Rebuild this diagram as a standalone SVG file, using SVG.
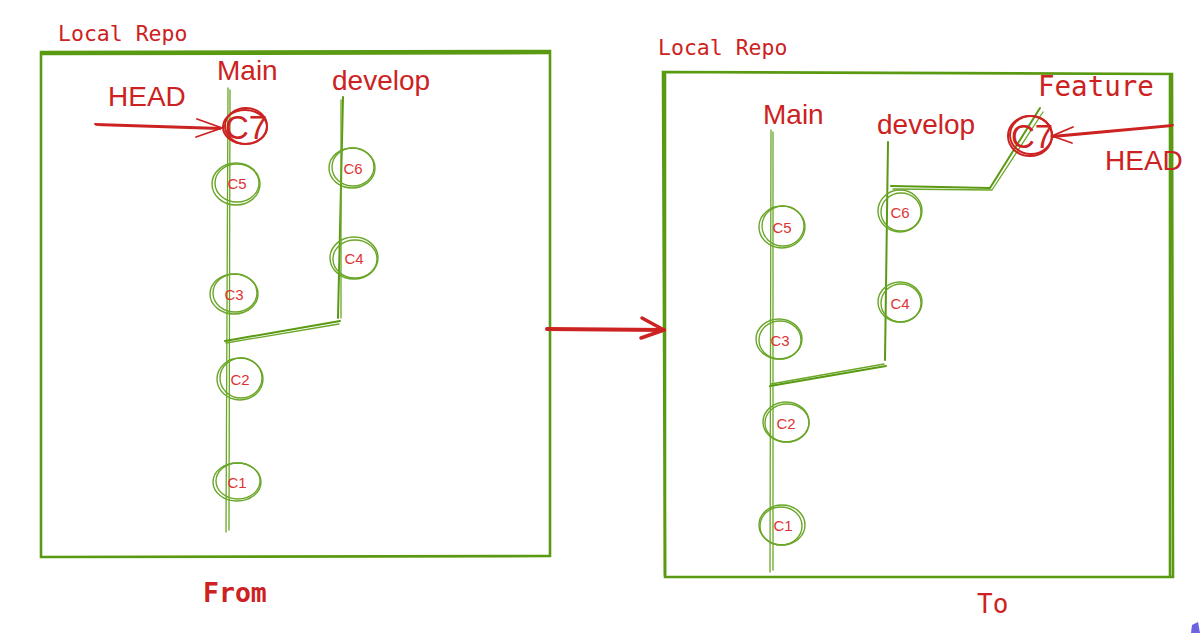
<svg xmlns="http://www.w3.org/2000/svg" width="1200" height="633" viewBox="0 0 1200 633">
  <defs>
    <style>
      .frame { fill: none; stroke: #5a9a12; stroke-width: 2.6; stroke-linecap: round; }
      .branch { fill: none; stroke: #6aa628; stroke-width: 1.3; stroke-linecap: round; stroke-linejoin: round; }
      .branch2 { fill: none; stroke: #5a9a12; stroke-width: 2; stroke-linecap: round; stroke-linejoin: round; }
      .commit { fill: none; stroke: #6aa628; stroke-width: 1.4; }
      .head { fill: none; stroke: #cc2222; stroke-width: 2; }
      .arrow { fill: none; stroke: #cc2222; stroke-width: 1.8; stroke-linecap: round; }
      .mono { font-family: "DejaVu Sans Mono", "Liberation Mono", monospace; fill: #cc2222; }
      .sans { font-family: "Liberation Sans", Arial, sans-serif; fill: #cc2222; }
      .lbl { font-size: 15px; text-anchor: middle; fill: #dd3333; }
      .big { font-size: 28px; }
      .c7 { font-size: 33px; text-anchor: middle; }
    </style>
  </defs>

  <rect width="1200" height="633" fill="#ffffff"/>

  <!-- left repository -->
  <g id="repo-from">
    <path class="frame" d="M41 52 L550 51 L550 556 L41 557 Z"/>
    <path class="frame" d="M42 54 L549 53" stroke-width="1.2"/>
    <text class="mono" x="58" y="41" font-size="21.5">Local Repo</text>
    <text class="mono" x="203" y="602" font-size="26.5" font-weight="bold">From</text>
  </g>

  <!-- right repository -->
  <g id="repo-to">
    <path class="frame" d="M663 72 L1172 74 L1173 577 L665 577 Z"/>
    <path class="frame" d="M665 74 L665 575 M1170 76 L1170 576" stroke-width="1.2"/>
    <text class="mono" x="658" y="55" font-size="21.5">Local Repo</text>
    <text class="mono" x="977" y="613" font-size="26">To</text>
  </g>

  <!-- branch lines and pointers -->
  <g id="connectors">
    <!-- left: main -->
    <path class="branch" d="M228 88 L226 532"/>
    <path class="branch" d="M230 90 L229 530"/>
    <!-- left: develop -->
    <path class="branch2" d="M343 97 L338 318"/>
    <path class="branch" d="M341 100 L341 318"/>
    <path class="branch2" d="M225 341 L340 321"/>
    <path class="branch" d="M226 343 L339 324"/>
    <!-- left: HEAD pointer -->
    <path class="arrow" d="M95 124 L221 128 M96 125 L220 129"/>
    <path class="arrow" d="M197 119 L222 128 L196 137"/>

    <!-- right: main -->
    <path class="branch" d="M771 130 L770 572"/>
    <path class="branch" d="M773 132 L773 570"/>
    <!-- right: develop -->
    <path class="branch2" d="M888 142 L885 360"/>
    <path class="branch2" d="M770 386 L886 366"/>
    <path class="branch" d="M771 384 L884 364"/>
    <!-- right: feature -->
    <path class="branch2" d="M891 186 L990 188 L1040 108"/>
    <path class="branch" d="M893 189 L992 190 L1043 112"/>
    <!-- right: HEAD pointer -->
    <path class="arrow" d="M1173 125 L1052 136 M1172 126 L1053 137"/>
    <path class="arrow" d="M1073 127 L1052 136 L1072 143"/>

    <!-- transition arrow -->
    <path d="M547 329 L664 330" fill="none" stroke="#cc2222" stroke-width="4" stroke-linecap="round"/>
    <path d="M642 318 L664 330 L641 338" fill="none" stroke="#cc2222" stroke-width="3.5" stroke-linecap="round" stroke-linejoin="round"/>
  </g>

  <!-- left commits -->
  <g id="main-label-left"><text class="sans big" x="217" y="80">Main</text></g>
  <g id="develop-label-left"><text class="sans big" x="332" y="90">develop</text></g>
  <g id="head-left"><text class="sans big" x="108" y="106">HEAD</text></g>
  <g id="c7-left">
    <ellipse class="head" cx="245" cy="127" rx="22" ry="17"/>
    <ellipse class="head" cx="246" cy="126" rx="21" ry="18" stroke-width="1"/>
    <text class="sans c7" x="246" y="139">C7</text>
  </g>
  <g id="c5-left">
    <ellipse class="commit" cx="236" cy="184" rx="24" ry="21"/>
    <ellipse class="commit" cx="237" cy="183" rx="22" ry="19" stroke-width="0.9"/>
    <text class="sans lbl" x="237" y="189">C5</text>
  </g>
  <g id="c6-left">
    <ellipse class="commit" cx="352" cy="168" rx="23" ry="20"/>
    <ellipse class="commit" cx="353" cy="167" rx="21" ry="19" stroke-width="0.9"/>
    <text class="sans lbl" x="353" y="174">C6</text>
  </g>
  <g id="c4-left">
    <ellipse class="commit" cx="354" cy="258" rx="24" ry="21"/>
    <ellipse class="commit" cx="355" cy="259" rx="22" ry="19" stroke-width="0.9"/>
    <text class="sans lbl" x="354" y="264">C4</text>
  </g>
  <g id="c3-left">
    <ellipse class="commit" cx="234" cy="294" rx="24" ry="20"/>
    <ellipse class="commit" cx="235" cy="293" rx="22" ry="19" stroke-width="0.9"/>
    <text class="sans lbl" x="234" y="300">C3</text>
  </g>
  <g id="c2-left">
    <ellipse class="commit" cx="240" cy="379" rx="23" ry="21"/>
    <ellipse class="commit" cx="241" cy="378" rx="21" ry="20" stroke-width="0.9"/>
    <text class="sans lbl" x="240" y="385">C2</text>
  </g>
  <g id="c1-left">
    <ellipse class="commit" cx="237" cy="482" rx="24" ry="19"/>
    <ellipse class="commit" cx="238" cy="481" rx="22" ry="18" stroke-width="0.9"/>
    <text class="sans lbl" x="237" y="488">C1</text>
  </g>

  <!-- right commits -->
  <g id="main-label-right"><text class="sans big" x="763" y="124">Main</text></g>
  <g id="develop-label-right"><text class="sans big" x="877" y="134">develop</text></g>
  <g id="feature-label"><text class="mono" x="1038" y="96" font-size="27.5">Feature</text></g>
  <g id="head-right"><text class="sans big" x="1105" y="170">HEAD</text></g>
  <g id="c7-right">
    <ellipse class="head" cx="1030" cy="136" rx="22" ry="20"/>
    <ellipse class="head" cx="1031" cy="135" rx="21" ry="19" stroke-width="1"/>
    <text class="sans c7" x="1032" y="148">C7</text>
  </g>
  <g id="c5-right">
    <ellipse class="commit" cx="782" cy="227" rx="23" ry="21"/>
    <ellipse class="commit" cx="783" cy="226" rx="21" ry="20" stroke-width="0.9"/>
    <text class="sans lbl" x="782" y="233">C5</text>
  </g>
  <g id="c6-right">
    <ellipse class="commit" cx="900" cy="211" rx="22" ry="21"/>
    <ellipse class="commit" cx="901" cy="212" rx="20" ry="19" stroke-width="0.9"/>
    <text class="sans lbl" x="900" y="218">C6</text>
  </g>
  <g id="c4-right">
    <ellipse class="commit" cx="900" cy="302" rx="22" ry="20"/>
    <ellipse class="commit" cx="901" cy="303" rx="20" ry="19" stroke-width="0.9"/>
    <text class="sans lbl" x="900" y="309">C4</text>
  </g>
  <g id="c3-right">
    <ellipse class="commit" cx="779" cy="339" rx="23" ry="20"/>
    <ellipse class="commit" cx="780" cy="340" rx="21" ry="19" stroke-width="0.9"/>
    <text class="sans lbl" x="780" y="346">C3</text>
  </g>
  <g id="c2-right">
    <ellipse class="commit" cx="786" cy="422" rx="23" ry="20"/>
    <ellipse class="commit" cx="787" cy="423" rx="22" ry="19" stroke-width="0.9"/>
    <text class="sans lbl" x="786" y="429">C2</text>
  </g>
  <g id="c1-right">
    <ellipse class="commit" cx="782" cy="525" rx="23" ry="20"/>
    <ellipse class="commit" cx="781" cy="526" rx="21" ry="19" stroke-width="0.9"/>
    <text class="sans lbl" x="783" y="531">C1</text>
  </g>

  <!-- corner badge -->
  <path d="M1192 625 L1198 622 L1200 633 L1191 633 Z" fill="#6b63e0"/>
</svg>
